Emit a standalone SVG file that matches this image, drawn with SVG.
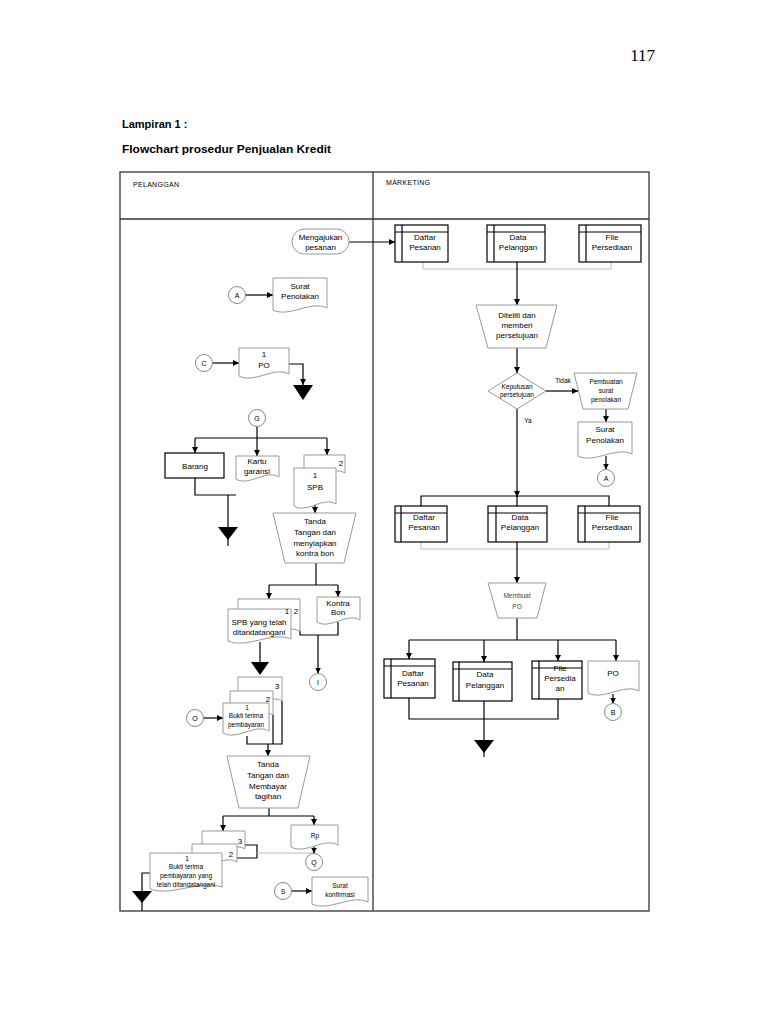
<svg xmlns="http://www.w3.org/2000/svg" width="768" height="1024" viewBox="0 0 768 1024">
<style>
.bg{fill:#fff}
.frame{fill:none;stroke:#333;stroke-width:1.3}
.doc{fill:#fff;stroke:#999;stroke-width:1}
.sh{fill:#fff;stroke:#999;stroke-width:1}
.box{fill:#fff;stroke:#000;stroke-width:1.2}
.ln{fill:none;stroke:#000;stroke-width:1.2}
.gl{fill:none;stroke:#bbb;stroke-width:1}
.ar{marker-end:url(#arr)}
.circ{fill:#fff;stroke:#888;stroke-width:1}
.tri{fill:#000}
text{font-family:"Liberation Sans",Arial,sans-serif;fill:#000}
.t{font-size:8px;text-anchor:middle}
.ts{font-size:6.5px;text-anchor:middle}
.tg{font-size:6.5px;text-anchor:middle;fill:#444}
.tc{font-size:7px;text-anchor:middle}
.hd{font-size:7px;letter-spacing:0.3px}
.ti{font-size:11px;font-weight:bold}
</style>
<defs>
<marker id="arr" viewBox="0 0 10 10" refX="10" refY="5" markerWidth="6" markerHeight="6" markerUnits="userSpaceOnUse" orient="auto"><path d="M0,0 L10,5 L0,10 z" fill="#000"/></marker>
</defs>
<rect class="bg" x="0" y="0" width="768" height="1024"/>
<text x="655" y="61" style="font-family:'Liberation Serif','Times New Roman',serif;font-size:17px" text-anchor="end">117</text>
<text class="ti" x="122" y="128">Lampiran 1 :</text>
<text class="ti" x="122" y="153" textLength="209" lengthAdjust="spacingAndGlyphs">Flowchart prosedur Penjualan Kredit</text>

<g id="frame">
<rect class="frame" x="120" y="172" width="529" height="739"/>
<line class="frame" x1="120" y1="219" x2="649" y2="219"/>
<line class="frame" x1="373" y1="172" x2="373" y2="911"/>
<text class="hd" x="133" y="187">PELANGGAN</text>
<text class="hd" x="386" y="185">MARKETING</text>
</g>

<g id="connectors">
<!-- marketing -->
<line class="ln ar" x1="349" y1="242" x2="395" y2="242"/>
<polyline class="gl" points="423,262 423,269 611,269 611,262"/>
<line class="ln ar" x1="517" y1="262" x2="517" y2="305"/>
<line class="ln ar" x1="517" y1="348" x2="517" y2="373"/>
<line class="ln ar" x1="546" y1="391" x2="578" y2="391"/>
<line class="ln ar" x1="606" y1="409" x2="606" y2="422"/>
<line class="ln ar" x1="606" y1="456" x2="606" y2="469.5"/>
<line class="ln ar" x1="517" y1="409" x2="517" y2="497"/>
<polyline class="ln" points="421,506 421,496 609,496 609,506"/>
<line class="ln" x1="517" y1="496" x2="517" y2="506"/>
<polyline class="gl" points="421,542 421,549 609,549 609,542"/>
<line class="ln ar" x1="517" y1="542" x2="517" y2="583"/>
<line class="ln" x1="517" y1="618" x2="517" y2="640"/>
<line class="ln" x1="409" y1="640" x2="616" y2="640"/>
<line class="ln ar" x1="409" y1="640" x2="409" y2="659"/>
<line class="ln ar" x1="484" y1="640" x2="484" y2="662"/>
<line class="ln ar" x1="558" y1="640" x2="558" y2="661"/>
<line class="ln ar" x1="616" y1="640" x2="616" y2="661"/>
<line class="ln ar" x1="613" y1="694" x2="613" y2="703.5"/>
<polyline class="ln" points="409,698 409,719 558,719 558,699"/>
<line class="ln" x1="484" y1="701" x2="484" y2="757"/>
<!-- pelanggan -->
<line class="ln ar" x1="245.5" y1="295" x2="273" y2="295"/>
<line class="ln ar" x1="212.5" y1="363" x2="239" y2="363"/>
<polyline class="ln ar" points="289,364 303,364 303,385"/>
<line class="ln" x1="257" y1="426.5" x2="257" y2="438"/>
<line class="ln" x1="195" y1="438" x2="327" y2="438"/>
<line class="ln ar" x1="195" y1="438" x2="195" y2="453"/>
<line class="ln ar" x1="257" y1="438" x2="257" y2="456"/>
<line class="ln ar" x1="327" y1="438" x2="327" y2="455"/>
<polyline class="ln" points="195,478 195,495 236,495"/>
<line class="ln" x1="228" y1="495" x2="228" y2="546"/>
<line class="ln ar" x1="315" y1="505" x2="315" y2="513"/>
<line class="ln" x1="316" y1="563" x2="316" y2="585"/>
<line class="ln" x1="269" y1="585" x2="338" y2="585"/>
<line class="ln ar" x1="269" y1="585" x2="269" y2="599"/>
<line class="ln ar" x1="338" y1="585" x2="338" y2="597"/>
<polyline class="ln" points="300,631 300,635 338,635 338,622"/>
<line class="ln ar" x1="318" y1="635" x2="318" y2="673.5"/>
<line class="ln" x1="260" y1="642" x2="260" y2="662"/>
<line class="ln ar" x1="203.5" y1="718" x2="223" y2="718"/>
<polyline class="ln" points="247,736 247,744 282,744 282,701"/>
<line class="ln" x1="273" y1="715" x2="273" y2="744"/>
<line class="ln ar" x1="268" y1="744" x2="268" y2="756"/>
<line class="ln" x1="269" y1="808" x2="269" y2="816"/>
<line class="ln" x1="223" y1="816" x2="314" y2="816"/>
<line class="ln ar" x1="223" y1="816" x2="223" y2="831"/>
<line class="ln ar" x1="314" y1="816" x2="314" y2="825"/>
<polyline class="ln" points="245,845 257,845 257,858 237,858"/>
<line class="gl" x1="257" y1="853" x2="314" y2="853"/>
<line class="ln ar" x1="314" y1="847" x2="314" y2="853.5"/>
<polyline class="ln" points="150,873 142,873 142,911"/>
<line class="ln ar" x1="291.5" y1="891" x2="312" y2="891"/>
</g>

<!-- off-page triangles -->
<g id="offpage">
<polygon class="tri" points="474,740 494,740 484,753"/>
<polygon class="tri" points="293,385 313,385 303,400"/>
<polygon class="tri" points="218,527 238,527 228,540"/>
<polygon class="tri" points="251,662 269,662 260,675"/>
<polygon class="tri" points="132,891 152,891 142,903"/>
</g>

<!-- marketing nodes -->
<g id="mengajukan">
<rect class="sh" x="292" y="229" width="57" height="25" rx="12.5"/>
<text class="t" x="320.5" y="239.5">Mengajukan</text>
<text class="t" x="320.5" y="249.5">pesanan</text>
</g>
<g id="daftar1">
<rect class="box" x="395" y="225" width="53" height="37"/>
<line class="ln" x1="402" y1="225" x2="402" y2="262"/><line class="ln" x1="395" y1="232" x2="448" y2="232"/>
<text class="t" x="425" y="240">Daftar</text><text class="t" x="425" y="250">Pesanan</text>
</g>
<g id="data1">
<rect class="box" x="487" y="225" width="58" height="37"/>
<line class="ln" x1="494" y1="225" x2="494" y2="262"/><line class="ln" x1="487" y1="232" x2="545" y2="232"/>
<text class="t" x="518" y="240">Data</text><text class="t" x="518" y="250">Pelanggan</text>
</g>
<g id="file1">
<rect class="box" x="579" y="225" width="62" height="37"/>
<line class="ln" x1="586" y1="225" x2="586" y2="262"/><line class="ln" x1="579" y1="232" x2="641" y2="232"/>
<text class="t" x="612" y="240">File</text><text class="t" x="612" y="250">Persediaan</text>
</g>
<g id="diteliti">
<polygon class="sh" points="476,305 557,305 546,348 488,348"/>
<text class="t" x="517" y="318">Diteliti dan</text>
<text class="t" x="517" y="328">memberi</text>
<text class="t" x="517" y="338">persetujuan</text>
</g>
<g id="keputusan">
<polygon class="sh" points="517,373 546,391 517,409 488,391"/>
<text class="ts" x="517" y="389">Keputusan</text>
<text class="ts" x="517" y="397">persetujuan</text>
</g>
<text class="ts" x="563" y="383">Tidak</text>
<text class="ts" x="528" y="423">Ya</text>
<g id="pembuatan">
<polygon class="sh" points="574,373 637,373 628,409 583,409"/>
<text class="ts" x="606" y="384">Pembuatan</text>
<text class="ts" x="606" y="393">surat</text>
<text class="ts" x="606" y="402">penolakan</text>
</g>
<g id="suratpenolakan2">
<path class="doc" d="M578,422 H632 V454 C615.8,446 594.2,464 578,456 Z"/>
<text class="t" x="605" y="432">Surat</text>
<text class="t" x="605" y="443">Penolakan</text>
</g>
<g id="conA2"><circle class="circ" cx="606" cy="478" r="8.5"/><text class="tc" x="606" y="480.5">A</text></g>
<g id="daftar2">
<rect class="box" x="395" y="506" width="52" height="36"/>
<line class="ln" x1="401" y1="506" x2="401" y2="542"/><line class="ln" x1="395" y1="513" x2="447" y2="513"/>
<text class="t" x="424" y="520">Daftar</text><text class="t" x="424" y="530">Pesanan</text>
</g>
<g id="data2">
<rect class="box" x="488" y="506" width="59" height="36"/>
<line class="ln" x1="496" y1="506" x2="496" y2="542"/><line class="ln" x1="488" y1="513" x2="547" y2="513"/>
<text class="t" x="520" y="520">Data</text><text class="t" x="520" y="530">Pelanggan</text>
</g>
<g id="file2">
<rect class="box" x="578" y="506" width="62" height="36"/>
<line class="ln" x1="585" y1="506" x2="585" y2="542"/><line class="ln" x1="578" y1="513" x2="640" y2="513"/>
<text class="t" x="612" y="520">File</text><text class="t" x="612" y="530">Persediaan</text>
</g>
<g id="membuatpo">
<polygon class="sh" points="488,583 546,583 537,618 498,618"/>
<text class="tg" x="517" y="598">Membuat</text>
<text class="tg" x="517" y="609">PO</text>
</g>
<g id="daftar3">
<rect class="box" x="384" y="659" width="51" height="39"/>
<line class="ln" x1="391" y1="659" x2="391" y2="698"/><line class="ln" x1="384" y1="666" x2="435" y2="666"/>
<text class="t" x="413" y="676">Daftar</text><text class="t" x="413" y="686">Pesanan</text>
</g>
<g id="data3">
<rect class="box" x="453" y="662" width="59" height="39"/>
<line class="ln" x1="459" y1="662" x2="459" y2="701"/><line class="ln" x1="453" y1="669" x2="512" y2="669"/>
<text class="t" x="485" y="677">Data</text><text class="t" x="485" y="688">Pelanggan</text>
</g>
<g id="file3">
<rect class="box" x="532" y="661" width="50" height="38"/>
<line class="ln" x1="539" y1="661" x2="539" y2="699"/><line class="ln" x1="532" y1="668" x2="582" y2="668"/>
<text class="t" x="560" y="671">File</text><text class="t" x="560" y="681">Persedia</text><text class="t" x="560" y="691">an</text>
</g>
<g id="po2">
<path class="doc" d="M588,661 H639 V691 C623.7,683 603.3,701 588,693 Z"/>
<text class="t" x="613" y="676">PO</text>
</g>
<g id="conB"><circle class="circ" cx="613" cy="712" r="8.5"/><text class="tc" x="613" y="714.5">B</text></g>

<!-- pelanggan nodes -->
<g id="conA"><circle class="circ" cx="237" cy="295" r="8.5"/><text class="tc" x="237" y="297.5">A</text></g>
<g id="suratpenolakan1">
<path class="doc" d="M273,278 H327 V308 C310.8,300 289.2,318 273,310 Z"/>
<text class="t" x="300" y="289">Surat</text>
<text class="t" x="300" y="299">Penolakan</text>
</g>
<g id="conC"><circle class="circ" cx="204" cy="363" r="8.5"/><text class="tc" x="204" y="365.5">C</text></g>
<g id="po1">
<path class="doc" d="M239,348 H289 V374 C274,366 254,384 239,376 Z"/>
<text class="t" x="264" y="357">1</text>
<text class="t" x="264" y="368">PO</text>
</g>
<g id="conG"><circle class="circ" cx="257" cy="418" r="8.5"/><text class="tc" x="257" y="420.5">G</text></g>
<g id="barang">
<rect class="box" x="165" y="453" width="59" height="25"/>
<text class="t" x="195" y="469">Barang</text>
</g>
<g id="kartu">
<path class="doc" d="M236,456 H279 V477 C266.1,469 248.9,487 236,479 Z"/>
<text class="t" x="257" y="464">Kartu</text>
<text class="t" x="257" y="474">garansi</text>
</g>
<g id="spb">
<path class="doc" d="M304,455 H345 V473 C332.7,465 316.3,483 304,475 Z"/>
<text class="t" x="341" y="466">2</text>
<path class="doc" d="M294,468 H336 V504 C323.4,496 306.6,514 294,506 Z"/>
<text class="t" x="315" y="478">1</text>
<text class="t" x="315" y="490">SPB</text>
</g>
<g id="tandatangan1">
<polygon class="sh" points="273,513 356,513 344,563 285,563"/>
<text class="t" x="315" y="524">Tanda</text>
<text class="t" x="315" y="535">Tangan dan</text>
<text class="t" x="315" y="546">menyiapkan</text>
<text class="t" x="315" y="556">kontra bon</text>
</g>
<g id="spbttd">
<path class="doc" d="M238,599 H300 V631 C281.4,623 256.6,641 238,633 Z"/>
<path class="doc" d="M228,609 H291 V639 C272.1,631 246.9,649 228,641 Z"/>
<text class="t" x="287" y="614">1</text>
<text class="t" x="296" y="614">2</text>
<text class="t" x="259" y="625">SPB yang telah</text>
<text class="t" x="259" y="635">ditandatangani</text>
</g>
<g id="kontrabon">
<path class="doc" d="M317,597 H360 V620 C347.1,612 329.9,630 317,622 Z"/>
<text class="t" x="338" y="606">Kontra</text>
<text class="t" x="338" y="615">Bon</text>
</g>
<g id="conI"><circle class="circ" cx="318" cy="682" r="8.5"/><text class="tc" x="318" y="684.5">I</text></g>
<g id="bukti">
<path class="doc" d="M238,677 H282 V701 C268.8,693 251.2,711 238,703 Z"/>
<text class="t" x="277" y="689">3</text>
<path class="doc" d="M230,691 H273 V715 C260.1,707 242.9,725 230,717 Z"/>
<text class="t" x="268" y="702">2</text>
<path class="doc" d="M223,703 H269 V731 C255.2,723 236.8,741 223,733 Z"/>
<text class="ts" x="247" y="710">1</text>
<text class="ts" x="246" y="718">Bukti terima</text>
<text class="ts" x="246" y="727">pembayaran</text>
</g>
<g id="conO"><circle class="circ" cx="195" cy="718" r="8.5"/><text class="tc" x="195" y="720.5">O</text></g>
<g id="tandatangan2">
<polygon class="sh" points="227,756 310,756 298,808 239,808"/>
<text class="t" x="268" y="767">Tanda</text>
<text class="t" x="268" y="778">Tangan dan</text>
<text class="t" x="268" y="789">Membayar</text>
<text class="t" x="268" y="799">tagihan</text>
</g>
<g id="rp">
<path class="doc" d="M291,825 H338 V845 C324,837 305,855 291,847 Z"/>
<text class="ts" x="315" y="838">Rp</text>
</g>
<g id="conQ"><circle class="circ" cx="314" cy="862" r="8.5"/><text class="tc" x="314" y="864.5">Q</text></g>
<g id="buktitelah">
<path class="doc" d="M202,831 H245 V849 C232.1,841 214.9,859 202,851 Z"/>
<text class="t" x="240" y="844">3</text>
<path class="doc" d="M192,844 H237 V862 C223.5,854 205.5,872 192,864 Z"/>
<text class="t" x="231" y="857">2</text>
<path class="doc" d="M150,853 H222 V887 C200.4,879 171.6,897 150,889 Z"/>
<text class="ts" x="187" y="861">1</text>
<text class="ts" x="186" y="869">Bukti terima</text>
<text class="ts" x="186" y="878">pembayaran yang</text>
<text class="ts" x="186" y="887">telah ditandatangani</text>
</g>
<g id="conS"><circle class="circ" cx="283" cy="891" r="8.5"/><text class="tc" x="283" y="893.5">S</text></g>
<g id="suratkonfirmasi">
<path class="doc" d="M312,877 H368 V902 C351.2,894 328.8,912 312,904 Z"/>
<text class="ts" x="340" y="888">Surat</text>
<text class="ts" x="340" y="897">konfirmasi</text>
</g>
</svg>
